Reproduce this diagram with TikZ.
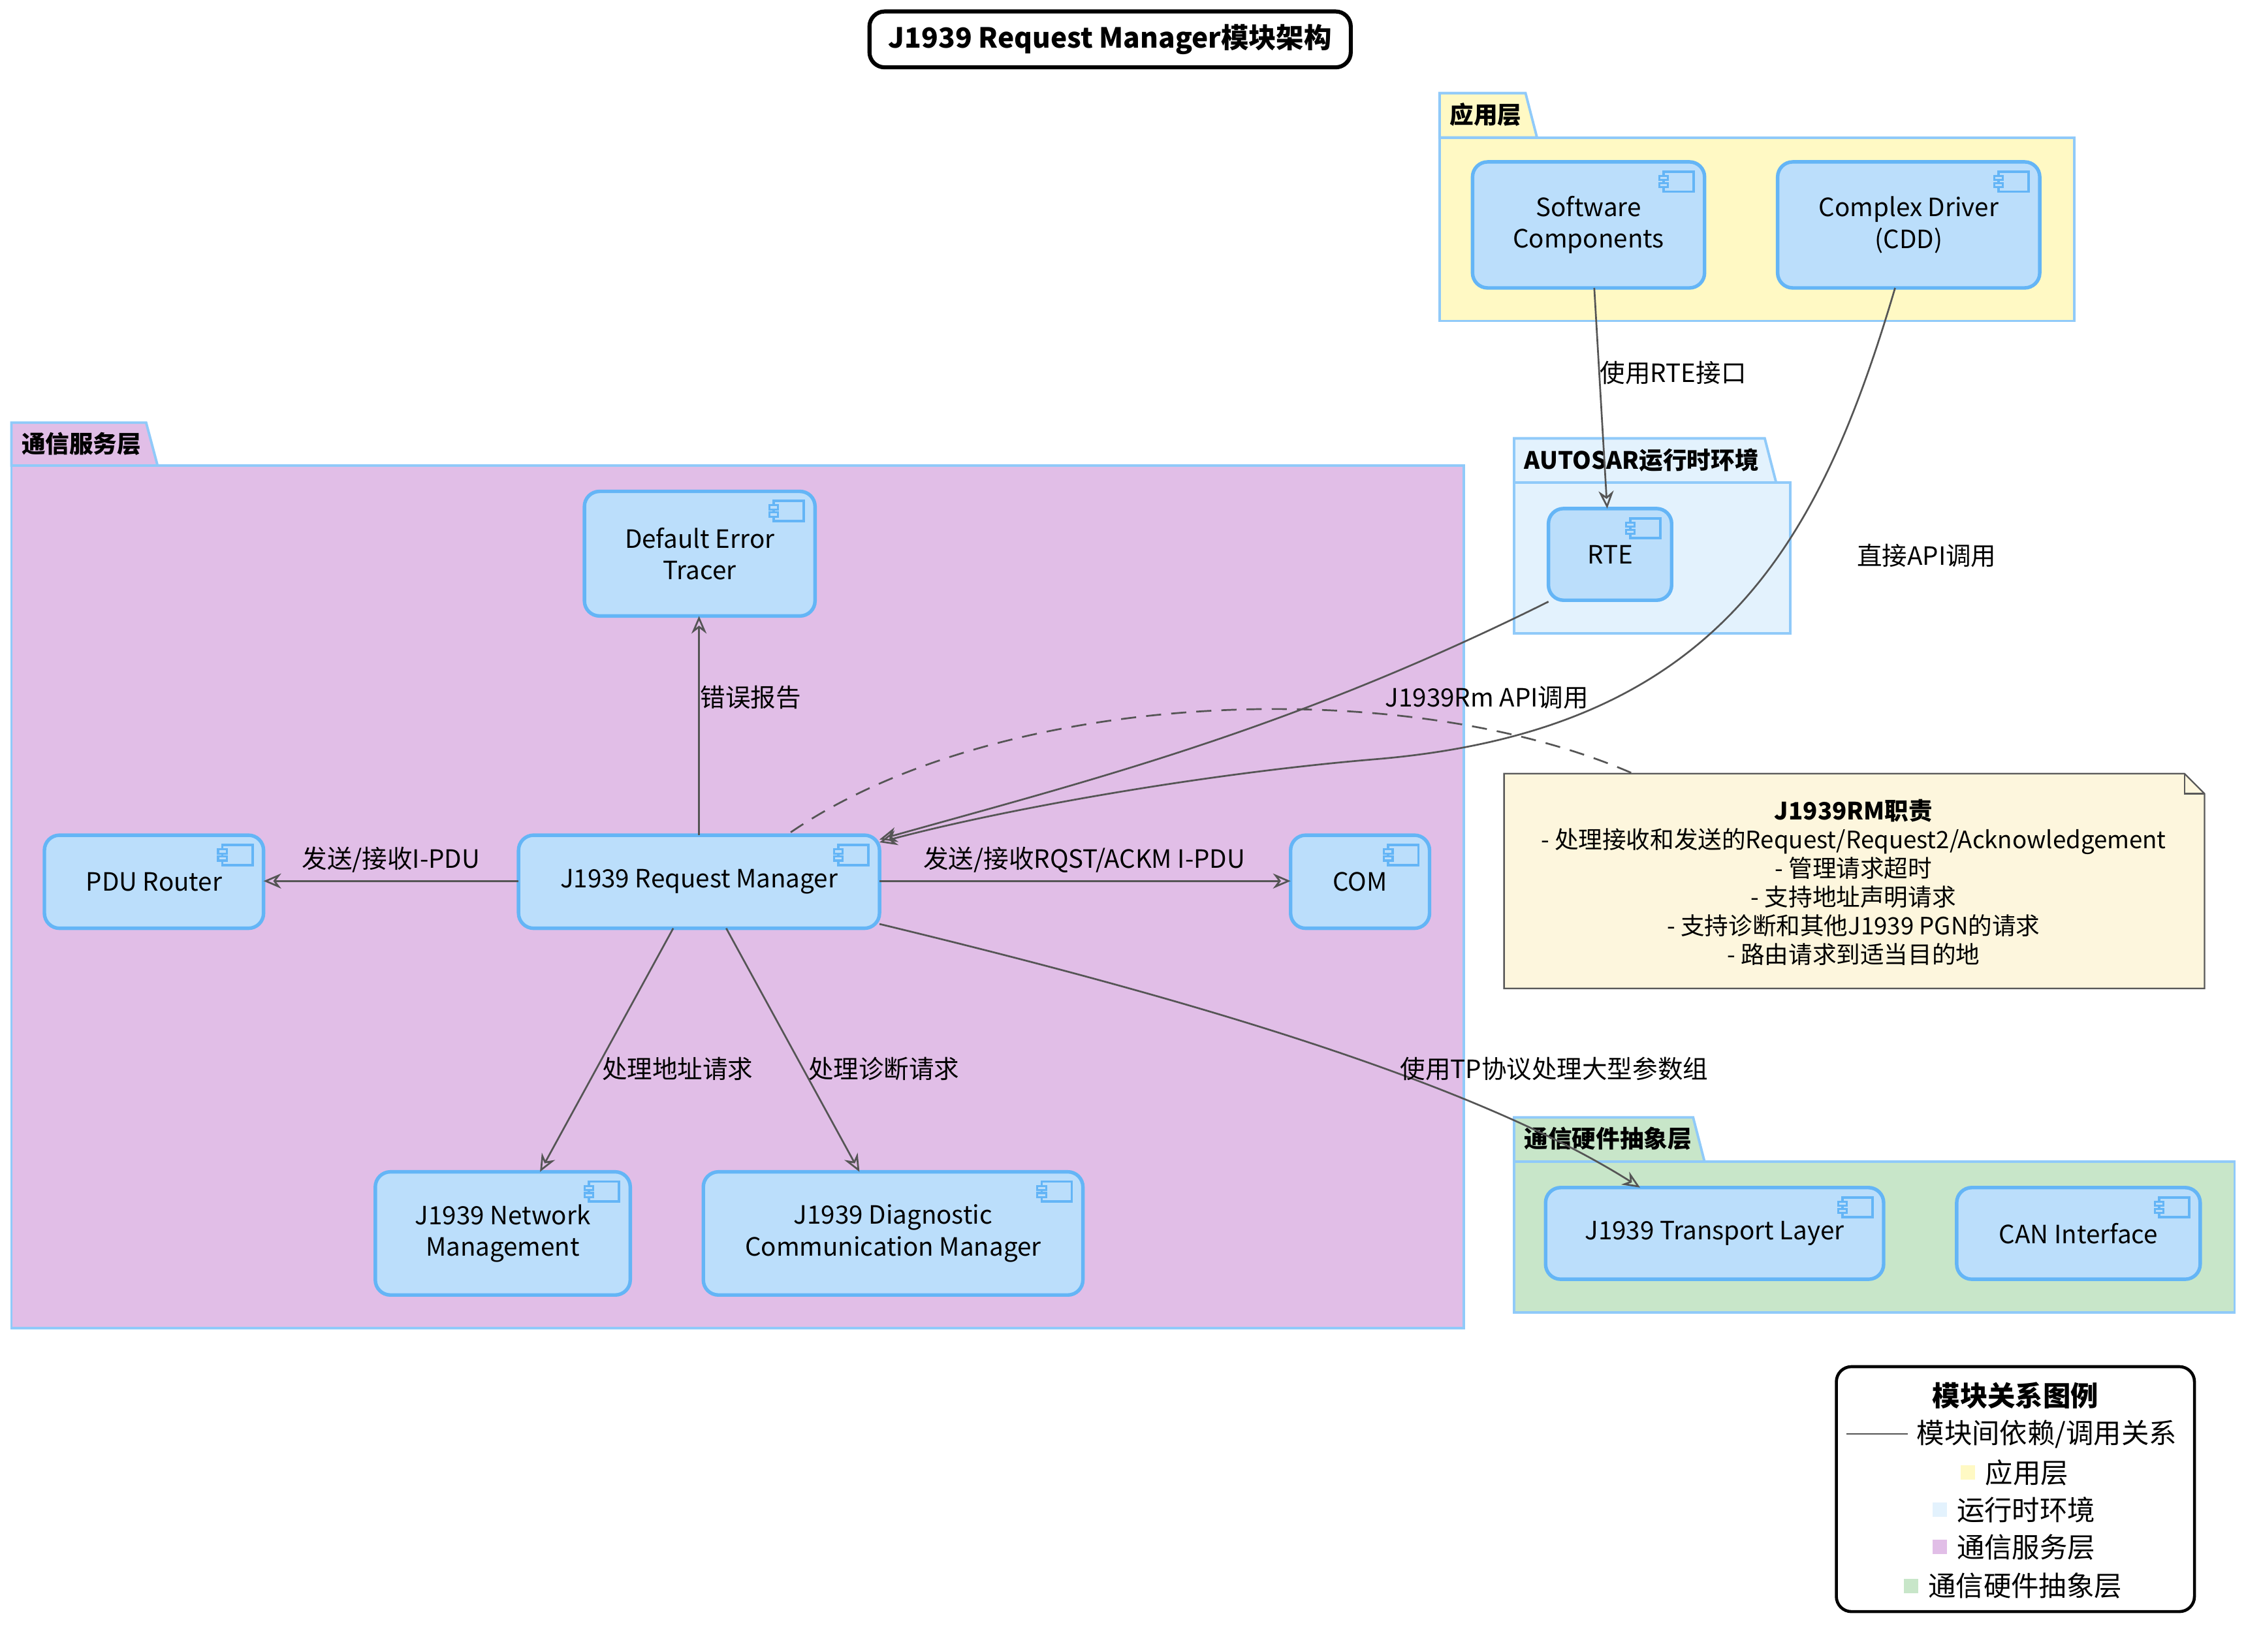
\documentclass[tikz,border=0pt]{standalone}
\usepackage{fontspec}
\setmainfont{Noto Sans CJK SC}
\usetikzlibrary{arrows.meta}
\definecolor{compfill}{HTML}{BBDEFB}
\definecolor{compline}{HTML}{64B5F6}
\definecolor{pkgline}{HTML}{90CAF9}
\definecolor{appfill}{HTML}{FFF9C4}
\definecolor{rtefill}{HTML}{E3F2FD}
\definecolor{comfill}{HTML}{E1BEE7}
\definecolor{hwfill}{HTML}{C8E6C9}
\definecolor{notefill}{HTML}{FDF6DD}
\definecolor{edge}{HTML}{555555}
\tikzset{
  comp/.style={draw=compline, fill=compfill, line width=1.4pt, rounded corners=6pt, align=center, inner sep=0pt, font=\fontsize{10}{12.5}\selectfont},
  pkg/.style={draw=pkgline, line width=1pt},
  lbl/.style={font=\fontsize{10}{12.5}\selectfont, inner sep=1pt},
  arr/.style={draw=edge, line width=0.7pt, -{Stealth[length=7pt,width=6pt,open]}},
}
\newcommand{\comp}[6]{%
  \node[comp, minimum width={(#4-#2)*0.02cm}, minimum height={(#5-#3)*0.02cm}] (#1) at ({(#2+#4)/2},{(#3+#5)/2}) {#6};
  \draw[compline, fill=compfill, line width=1pt] ([xshift=-30*0.02cm,yshift=-8*0.02cm]#1.north east) rectangle ([xshift=-9*0.02cm,yshift=-22*0.02cm]#1.north east);
  \draw[compline, fill=compfill, line width=0.8pt] ([xshift=-33*0.02cm,yshift=-11*0.02cm]#1.north east) rectangle ([xshift=-27*0.02cm,yshift=-14*0.02cm]#1.north east);
  \draw[compline, fill=compfill, line width=0.8pt] ([xshift=-33*0.02cm,yshift=-16*0.02cm]#1.north east) rectangle ([xshift=-27*0.02cm,yshift=-19*0.02cm]#1.north east);
}
\newcommand{\pkg}[8]{% name tabx2 taby1 x1 y1 x2 y2 fill ; title separately
  \draw[pkg, fill=#8] (#2,#5) -- (#2,#3) -- (#4-8,#3) -- (#4,#5) -- cycle;
  \draw[pkg, fill=#8] (#2,#5) rectangle (#6,#7);
}
\begin{document}
\begin{tikzpicture}[x=0.02cm,y=-0.02cm]
\useasboundingbox (0,0) rectangle (1568,1153);
\fill[white] (0,0) rectangle (1568,1153);
% title
\node[draw, line width=1.6pt, rounded corners=6pt, minimum width=336*0.02cm, minimum height=39*0.02cm, font=\fontsize{11}{13}\selectfont\bfseries] (title) at (775,27.5) {J1939 Request Manager模块架构};
% packages
\pkg{app}{1005}{65}{1073}{96}{1448}{224}{appfill}
\node[lbl, font=\fontsize{9.5}{12}\selectfont\bfseries, anchor=west] (appt) at (1010,80) {应用层};
\pkg{rte}{1057}{306}{1240}{337}{1250}{442}{rtefill}
\node[lbl, font=\fontsize{9.5}{12}\selectfont\bfseries, anchor=west] (rtet) at (1062,321) {AUTOSAR运行时环境};
\pkg{com}{8}{295}{110}{325}{1022}{927}{comfill}
\node[lbl, font=\fontsize{9.5}{12}\selectfont\bfseries, anchor=west] (comt) at (13,310) {通信服务层};
\pkg{hw}{1057}{780}{1190}{811}{1560}{916}{hwfill}
\node[lbl, font=\fontsize{9.5}{12}\selectfont\bfseries, anchor=west] (hwt) at (1062,795) {通信硬件抽象层};
% components
\comp{swc}{1028}{113}{1190}{201}{Software\\Components}
\comp{cdd}{1241}{113}{1424}{201}{Complex Driver\\(CDD)}
\comp{rtenode}{1081}{355}{1167}{419}{RTE}
\comp{det}{408}{343}{569}{430}{Default Error\\Tracer}
\comp{pdur}{31}{583}{184}{648}{PDU Router}
\comp{jrm}{362}{583}{614}{648}{J1939 Request Manager}
\comp{comn}{901}{583}{998}{648}{COM}
\comp{nm}{262}{818}{440}{904}{J1939 Network\\Management}
\comp{dcm}{491}{818}{756}{904}{J1939 Diagnostic\\Communication Manager}
\comp{tp}{1079}{829}{1315}{893}{J1939 Transport Layer}
\comp{canif}{1366}{829}{1536}{893}{CAN Interface}
% note
\draw[draw=gray!70!black, fill=notefill, line width=0.6pt] (1050,540) -- (1525,540) -- (1539,554) -- (1539,690) -- (1050,690) -- cycle;
\draw[draw=gray!70!black, line width=0.6pt] (1525,540) -- (1525,554) -- (1539,554);
\node[lbl, align=center, font=\fontsize{9.5}{11.4}\selectfont] (note) at (1294,616) {\textbf{J1939RM职责}\\- 处理接收和发送的Request/Request2/Acknowledgement\\- 管理请求超时\\- 支持地址声明请求\\- 支持诊断和其他J1939 PGN的请求\\- 路由请求到适当目的地};
\coordinate (notein) at (1140,540);
% edges
\draw[arr] (1113,201) -- (1122,355);
\node[lbl, anchor=west] (l1) at (1115,260) {使用RTE接口};
\draw[arr] (1323,201) .. controls (1270,380) and (1200,510) .. (960,530) .. controls (840,540) and (700,565) .. (614,588);
\node[lbl] (l2) at (1345,388) {直接API调用};
\draw[arr] (1081,420) .. controls (900,510) and (760,545) .. (614,586);
\node[lbl] (l3) at (1038,487) {J1939Rm API调用};
\draw[draw=edge, line width=0.7pt, dash pattern=on 6pt off 4pt] (552,581) .. controls (700,480) and (980,470) .. (notein);
\draw[arr] (488,583) -- (488,430);
\node[lbl] (l4) at (524,487) {错误报告};
\draw[arr] (362,615) -- (184,615);
\node[lbl] (l5) at (273,600) {发送/接收I-PDU};
\draw[arr] (614,615) -- (901,615);
\node[lbl] (l6) at (757,600) {发送/接收RQST/ACKM I-PDU};
\draw[arr] (470,648) -- (377,818);
\node[lbl] (l7) at (473,746) {处理地址请求};
\draw[arr] (507,648) -- (600,818);
\node[lbl] (l8) at (617,746) {处理诊断请求};
\draw[arr] (614,645) .. controls (800,690) and (1020,750) .. (1145,829);
\node[lbl] (l9) at (1085,746) {使用TP协议处理大型参数组};
% legend
\node[draw, line width=1.2pt, rounded corners=6pt, minimum width=250*0.02cm, minimum height=171*0.02cm] (legend) at (1407,1039.5) {};
\node[lbl, font=\fontsize{11}{13}\selectfont\bfseries] (lg0) at (1407,974) {模块关系图例};
\draw[edge, line width=0.6pt] (1289,1001) -- (1332,1001);
\node[lbl, anchor=west, font=\fontsize{11}{13}\selectfont] (lg1) at (1336,1001) {模块间依赖/调用关系};
\fill[appfill] (1369,1023) rectangle (1379,1033);
\node[lbl, anchor=west, font=\fontsize{11}{13}\selectfont] (lg2) at (1384,1028) {应用层};
\fill[rtefill] (1349,1049) rectangle (1359,1059);
\node[lbl, anchor=west, font=\fontsize{11}{13}\selectfont] (lg3) at (1364,1054) {运行时环境};
\fill[comfill] (1349,1075) rectangle (1359,1085);
\node[lbl, anchor=west, font=\fontsize{11}{13}\selectfont] (lg4) at (1364,1080) {通信服务层};
\fill[hwfill] (1329,1102) rectangle (1339,1112);
\node[lbl, anchor=west, font=\fontsize{11}{13}\selectfont] (lg5) at (1344,1107) {通信硬件抽象层};
\end{tikzpicture}
\end{document}
